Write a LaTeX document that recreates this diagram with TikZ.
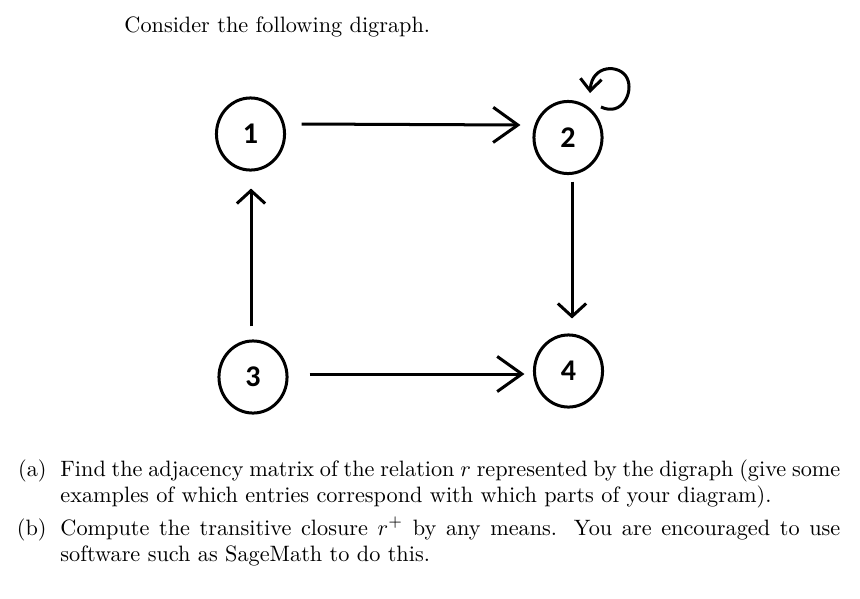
\documentclass[tikz,border=0pt]{standalone}
\usepackage{fontspec}
\newfontfamily\numfont{Carlito}
\usetikzlibrary{shapes.geometric,arrows.meta,calc}
\begin{document}
\begin{tikzpicture}[x=0.4494pt,y=-0.4494pt,
 vertex/.style={draw,ellipse,line width=1.35pt,minimum width=30.6pt,minimum height=32.4pt,inner sep=0pt,font=\numfont\bfseries\fontsize{13.5}{15}\selectfont},
 edgeline/.style={line width=1.35pt},
 harrow/.style={edgeline,-{Straight Barb[length=11.1pt,width=15.8pt]}},
 varrow/.style={edgeline,-{Straight Barb[length=5.8pt,width=12.7pt]}},
 larrow/.style={edgeline,-{Straight Barb[length=5.3pt,width=9.5pt]}},
 prose/.style={inner sep=0pt,font=\fontsize{10}{12}\selectfont},
]
\useasboundingbox (0,0) rectangle (860,598);
\node[prose,anchor=base west] (title) at (124,32) {Consider the following digraph.};

\node[vertex] (n1) at (250.5,134) {1};
\node[vertex] (n2) at (568,137.5) {2};
\node[vertex] (n3) at (253,377) {3};
\node[vertex] (n4) at (568.5,371) {4};

\draw[harrow] ($(n1.east)+(15.5,-10)$) -- ($(n2.west)+(-12,-12.5)$);
\draw[harrow] ($(n3.east)+(21,-3)$) -- ($(n4.west)+(-8.5,3)$);
\draw[varrow] ($(n3.north)+(-2,-13)$) -- ($(n1.south)+(0.5,17)$);
\draw[varrow] ($(n2.south)+(4,6.5)$) -- ($(n4.north)+(3.5,-15)$);

\coordinate (ls) at ($(n2.center)+(33,-30.5)$);
\coordinate (le) at ($(n2.center)+(22,-44.5)$);
\draw[larrow] (ls) .. controls (622,117) and (634,92) .. (627,78) .. controls (620,64) and (592,64) .. (le);

\node[prose,anchor=base east] (la) at (47,476) {(a)};
\node[prose,anchor=base west,text width=350.5pt,align=justify] (ta) at (60,476) {Find the adjacency matrix of the relation $r$ represented by the digraph (give some\linebreak examples of which entries correspond with which parts of your diagram).};
\node[prose,anchor=base east] (lb) at (47,535) {(b)};
\node[prose,anchor=base west,text width=350.5pt,align=justify] (tb) at (60,535) {Compute the transitive closure $r^+$ by any means.  You are encouraged to use\linebreak software such as SageMath to do this.};
\end{tikzpicture}
\end{document}
